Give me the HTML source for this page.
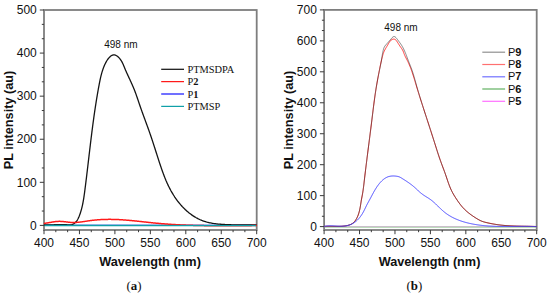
<!DOCTYPE html>
<html><head><meta charset="utf-8"><style>
html,body{margin:0;padding:0;background:#fff;}
body{width:550px;height:296px;overflow:hidden;}
svg{display:block;}
text{font-family:"Liberation Sans",sans-serif;fill:#111;}
.tl{font-size:12px;}
.at{font-size:12.7px;font-weight:bold;}
.ann{font-size:10px;}
.lgl{font-family:"Liberation Serif",serif;font-size:10.4px;}
.lgr{font-size:11px;}
.cap{font-family:"Liberation Serif",serif;font-size:12.9px;}
</style></head><body>
<svg width="550" height="296" viewBox="0 0 550 296">
<rect x="44.0" y="10.0" width="212.70" height="220.00" fill="none" stroke="#7e7e7e" stroke-width="1.8"/>
<line x1="39.80" y1="225.40" x2="44.00" y2="225.40" stroke="#3a3a3a" stroke-width="1"/>
<text x="36.80" y="229.60" class="tl" text-anchor="end">0</text>
<line x1="41.80" y1="211.04" x2="44.00" y2="211.04" stroke="#3a3a3a" stroke-width="1"/>
<line x1="41.80" y1="196.68" x2="44.00" y2="196.68" stroke="#3a3a3a" stroke-width="1"/>
<line x1="39.80" y1="182.32" x2="44.00" y2="182.32" stroke="#3a3a3a" stroke-width="1"/>
<text x="36.80" y="186.52" class="tl" text-anchor="end">100</text>
<line x1="41.80" y1="167.96" x2="44.00" y2="167.96" stroke="#3a3a3a" stroke-width="1"/>
<line x1="41.80" y1="153.60" x2="44.00" y2="153.60" stroke="#3a3a3a" stroke-width="1"/>
<line x1="39.80" y1="139.24" x2="44.00" y2="139.24" stroke="#3a3a3a" stroke-width="1"/>
<text x="36.80" y="143.44" class="tl" text-anchor="end">200</text>
<line x1="41.80" y1="124.88" x2="44.00" y2="124.88" stroke="#3a3a3a" stroke-width="1"/>
<line x1="41.80" y1="110.52" x2="44.00" y2="110.52" stroke="#3a3a3a" stroke-width="1"/>
<line x1="39.80" y1="96.16" x2="44.00" y2="96.16" stroke="#3a3a3a" stroke-width="1"/>
<text x="36.80" y="100.36" class="tl" text-anchor="end">300</text>
<line x1="41.80" y1="81.80" x2="44.00" y2="81.80" stroke="#3a3a3a" stroke-width="1"/>
<line x1="41.80" y1="67.44" x2="44.00" y2="67.44" stroke="#3a3a3a" stroke-width="1"/>
<line x1="39.80" y1="53.08" x2="44.00" y2="53.08" stroke="#3a3a3a" stroke-width="1"/>
<text x="36.80" y="57.28" class="tl" text-anchor="end">400</text>
<line x1="41.80" y1="38.72" x2="44.00" y2="38.72" stroke="#3a3a3a" stroke-width="1"/>
<line x1="41.80" y1="24.36" x2="44.00" y2="24.36" stroke="#3a3a3a" stroke-width="1"/>
<line x1="39.80" y1="10.00" x2="44.00" y2="10.00" stroke="#3a3a3a" stroke-width="1"/>
<text x="36.80" y="14.20" class="tl" text-anchor="end">500</text>
<line x1="44.00" y1="230.00" x2="44.00" y2="234.20" stroke="#3a3a3a" stroke-width="1"/>
<text x="44.00" y="246.90" class="tl" text-anchor="middle">400</text>
<line x1="55.82" y1="230.00" x2="55.82" y2="232.20" stroke="#3a3a3a" stroke-width="1"/>
<line x1="67.63" y1="230.00" x2="67.63" y2="232.20" stroke="#3a3a3a" stroke-width="1"/>
<line x1="79.45" y1="230.00" x2="79.45" y2="234.20" stroke="#3a3a3a" stroke-width="1"/>
<text x="79.45" y="246.90" class="tl" text-anchor="middle">450</text>
<line x1="91.27" y1="230.00" x2="91.27" y2="232.20" stroke="#3a3a3a" stroke-width="1"/>
<line x1="103.08" y1="230.00" x2="103.08" y2="232.20" stroke="#3a3a3a" stroke-width="1"/>
<line x1="114.90" y1="230.00" x2="114.90" y2="234.20" stroke="#3a3a3a" stroke-width="1"/>
<text x="114.90" y="246.90" class="tl" text-anchor="middle">500</text>
<line x1="126.72" y1="230.00" x2="126.72" y2="232.20" stroke="#3a3a3a" stroke-width="1"/>
<line x1="138.53" y1="230.00" x2="138.53" y2="232.20" stroke="#3a3a3a" stroke-width="1"/>
<line x1="150.35" y1="230.00" x2="150.35" y2="234.20" stroke="#3a3a3a" stroke-width="1"/>
<text x="150.35" y="246.90" class="tl" text-anchor="middle">550</text>
<line x1="162.17" y1="230.00" x2="162.17" y2="232.20" stroke="#3a3a3a" stroke-width="1"/>
<line x1="173.98" y1="230.00" x2="173.98" y2="232.20" stroke="#3a3a3a" stroke-width="1"/>
<line x1="185.80" y1="230.00" x2="185.80" y2="234.20" stroke="#3a3a3a" stroke-width="1"/>
<text x="185.80" y="246.90" class="tl" text-anchor="middle">600</text>
<line x1="197.62" y1="230.00" x2="197.62" y2="232.20" stroke="#3a3a3a" stroke-width="1"/>
<line x1="209.43" y1="230.00" x2="209.43" y2="232.20" stroke="#3a3a3a" stroke-width="1"/>
<line x1="221.25" y1="230.00" x2="221.25" y2="234.20" stroke="#3a3a3a" stroke-width="1"/>
<text x="221.25" y="246.90" class="tl" text-anchor="middle">650</text>
<line x1="233.07" y1="230.00" x2="233.07" y2="232.20" stroke="#3a3a3a" stroke-width="1"/>
<line x1="244.88" y1="230.00" x2="244.88" y2="232.20" stroke="#3a3a3a" stroke-width="1"/>
<line x1="256.70" y1="230.00" x2="256.70" y2="234.20" stroke="#3a3a3a" stroke-width="1"/>
<text x="256.70" y="246.90" class="tl" text-anchor="middle">700</text>
<line x1="44.6" y1="224.95" x2="256" y2="225.0" stroke="#6a80f0" stroke-width="1.0"/>
<path d="M44.50,225.01 L45.42,225.02 L46.33,225.01 L47.25,225.00 L48.16,224.98 L49.07,224.96 L49.98,224.93 L50.89,224.90 L51.80,224.86 L52.71,224.82 L53.62,224.79 L54.52,224.75 L55.43,224.71 L56.33,224.68 L57.24,224.65 L58.15,224.62 L59.06,224.60 L59.96,224.59 L60.87,224.58 L61.78,224.58 L62.70,224.59 L63.61,224.61 L64.53,224.65 L65.44,224.69 L66.37,224.75 L67.29,224.82 L68.20,224.87 L69.11,224.90 L70.01,224.88 L70.89,224.79 L71.75,224.61 L72.59,224.34 L73.39,223.95 L74.16,223.45 L74.89,222.87 L75.57,222.22 L76.20,221.53 L76.77,220.80 L77.28,220.05 L77.75,219.27 L78.18,218.47 L78.58,217.65 L78.95,216.81 L79.29,215.97 L79.62,215.12 L79.92,214.26 L80.22,213.41 L80.51,212.54 L80.78,211.68 L81.04,210.81 L81.29,209.94 L81.53,209.06 L81.75,208.18 L81.97,207.30 L82.18,206.42 L82.38,205.54 L82.57,204.65 L82.76,203.76 L82.93,202.87 L83.10,201.97 L83.26,201.08 L83.42,200.18 L83.57,199.28 L83.72,198.38 L83.86,197.48 L83.99,196.58 L84.12,195.68 L84.25,194.77 L84.38,193.87 L84.50,192.97 L84.62,192.06 L84.74,191.15 L84.86,190.25 L84.98,189.34 L85.09,188.44 L85.21,187.53 L85.32,186.63 L85.44,185.72 L85.55,184.81 L85.66,183.91 L85.78,183.00 L85.89,182.10 L86.00,181.19 L86.11,180.29 L86.23,179.38 L86.34,178.48 L86.45,177.57 L86.56,176.66 L86.67,175.76 L86.78,174.85 L86.88,173.95 L86.99,173.04 L87.10,172.14 L87.21,171.23 L87.32,170.33 L87.42,169.42 L87.53,168.52 L87.64,167.61 L87.75,166.71 L87.85,165.80 L87.96,164.90 L88.07,163.99 L88.17,163.09 L88.28,162.18 L88.38,161.28 L88.49,160.37 L88.60,159.47 L88.70,158.56 L88.81,157.66 L88.92,156.75 L89.02,155.85 L89.13,154.94 L89.23,154.04 L89.34,153.14 L89.45,152.23 L89.55,151.33 L89.66,150.42 L89.77,149.52 L89.88,148.61 L89.98,147.71 L90.09,146.81 L90.20,145.90 L90.31,145.00 L90.41,144.09 L90.52,143.19 L90.63,142.29 L90.74,141.38 L90.85,140.48 L90.96,139.58 L91.07,138.67 L91.18,137.77 L91.30,136.87 L91.41,135.96 L91.52,135.06 L91.63,134.16 L91.75,133.25 L91.86,132.35 L91.97,131.45 L92.09,130.54 L92.21,129.64 L92.32,128.74 L92.44,127.84 L92.56,126.93 L92.67,126.03 L92.79,125.13 L92.91,124.23 L93.03,123.32 L93.15,122.42 L93.28,121.52 L93.40,120.62 L93.52,119.72 L93.65,118.81 L93.77,117.91 L93.90,117.01 L94.02,116.11 L94.15,115.21 L94.28,114.31 L94.41,113.40 L94.54,112.50 L94.67,111.60 L94.80,110.70 L94.94,109.80 L95.07,108.90 L95.21,108.00 L95.34,107.10 L95.48,106.20 L95.62,105.30 L95.76,104.40 L95.90,103.50 L96.04,102.60 L96.18,101.70 L96.33,100.80 L96.47,99.90 L96.62,99.00 L96.77,98.10 L96.92,97.20 L97.07,96.30 L97.22,95.40 L97.37,94.50 L97.53,93.60 L97.68,92.70 L97.84,91.80 L98.00,90.91 L98.16,90.01 L98.32,89.11 L98.48,88.21 L98.65,87.31 L98.81,86.41 L98.98,85.52 L99.15,84.62 L99.32,83.72 L99.49,82.82 L99.67,81.93 L99.85,81.03 L100.03,80.14 L100.22,79.25 L100.42,78.35 L100.62,77.47 L100.83,76.58 L101.04,75.69 L101.27,74.81 L101.50,73.93 L101.74,73.06 L101.99,72.19 L102.26,71.32 L102.53,70.45 L102.82,69.59 L103.12,68.74 L103.43,67.89 L103.76,67.04 L104.10,66.20 L104.46,65.36 L104.83,64.53 L105.22,63.71 L105.63,62.89 L106.06,62.08 L106.51,61.29 L106.98,60.50 L107.48,59.74 L108.01,59.00 L108.58,58.29 L109.19,57.61 L109.83,56.96 L110.52,56.35 L111.25,55.79 L112.02,55.32 L112.82,55.00 L113.64,54.86 L114.48,54.93 L115.33,55.16 L116.16,55.53 L116.97,56.02 L117.74,56.60 L118.47,57.23 L119.14,57.89 L119.76,58.58 L120.33,59.30 L120.85,60.04 L121.34,60.80 L121.79,61.58 L122.22,62.38 L122.61,63.19 L122.99,64.01 L123.35,64.85 L123.71,65.68 L124.05,66.52 L124.40,67.37 L124.74,68.21 L125.10,69.05 L125.45,69.88 L125.82,70.72 L126.18,71.55 L126.55,72.39 L126.93,73.22 L127.30,74.05 L127.68,74.88 L128.06,75.70 L128.45,76.53 L128.83,77.36 L129.21,78.19 L129.60,79.01 L129.98,79.84 L130.36,80.67 L130.74,81.50 L131.12,82.33 L131.49,83.16 L131.87,83.99 L132.24,84.82 L132.60,85.66 L132.97,86.49 L133.32,87.33 L133.67,88.17 L134.02,89.01 L134.36,89.86 L134.69,90.71 L135.02,91.56 L135.34,92.41 L135.66,93.26 L135.97,94.12 L136.28,94.98 L136.58,95.84 L136.88,96.70 L137.18,97.56 L137.47,98.42 L137.77,99.29 L138.06,100.15 L138.35,101.02 L138.64,101.88 L138.93,102.74 L139.22,103.61 L139.52,104.47 L139.81,105.33 L140.11,106.19 L140.41,107.06 L140.71,107.91 L141.01,108.77 L141.32,109.63 L141.62,110.49 L141.93,111.35 L142.24,112.20 L142.55,113.06 L142.86,113.91 L143.17,114.77 L143.48,115.62 L143.79,116.48 L144.10,117.33 L144.42,118.19 L144.73,119.04 L145.05,119.89 L145.36,120.75 L145.67,121.60 L145.99,122.45 L146.30,123.31 L146.61,124.16 L146.93,125.02 L147.24,125.87 L147.55,126.73 L147.86,127.58 L148.17,128.44 L148.48,129.30 L148.78,130.15 L149.09,131.01 L149.39,131.87 L149.70,132.73 L150.00,133.59 L150.30,134.45 L150.59,135.31 L150.89,136.17 L151.18,137.04 L151.47,137.90 L151.76,138.77 L152.05,139.63 L152.34,140.50 L152.63,141.37 L152.91,142.24 L153.19,143.11 L153.48,143.97 L153.76,144.84 L154.04,145.71 L154.32,146.58 L154.60,147.45 L154.88,148.32 L155.16,149.19 L155.43,150.06 L155.71,150.94 L155.99,151.81 L156.27,152.68 L156.55,153.55 L156.82,154.42 L157.10,155.29 L157.38,156.16 L157.66,157.03 L157.94,157.89 L158.22,158.76 L158.50,159.63 L158.78,160.50 L159.06,161.37 L159.35,162.23 L159.63,163.10 L159.92,163.96 L160.21,164.82 L160.50,165.69 L160.79,166.55 L161.08,167.41 L161.38,168.27 L161.67,169.13 L161.97,169.99 L162.27,170.84 L162.58,171.70 L162.89,172.55 L163.20,173.40 L163.52,174.25 L163.84,175.10 L164.16,175.94 L164.49,176.79 L164.82,177.63 L165.16,178.47 L165.51,179.31 L165.85,180.15 L166.21,180.98 L166.57,181.81 L166.93,182.64 L167.31,183.47 L167.68,184.29 L168.07,185.11 L168.46,185.93 L168.86,186.74 L169.27,187.56 L169.68,188.37 L170.10,189.17 L170.54,189.98 L170.97,190.78 L171.42,191.57 L171.88,192.37 L172.34,193.16 L172.81,193.94 L173.30,194.73 L173.79,195.50 L174.29,196.27 L174.79,197.04 L175.31,197.80 L175.84,198.56 L176.37,199.31 L176.91,200.06 L177.46,200.79 L178.02,201.53 L178.59,202.25 L179.16,202.97 L179.75,203.68 L180.34,204.38 L180.94,205.07 L181.55,205.76 L182.17,206.44 L182.80,207.10 L183.43,207.76 L184.07,208.41 L184.72,209.05 L185.38,209.68 L186.05,210.30 L186.73,210.91 L187.41,211.51 L188.10,212.10 L188.80,212.67 L189.51,213.24 L190.23,213.79 L190.95,214.33 L191.68,214.86 L192.42,215.37 L193.17,215.88 L193.93,216.37 L194.69,216.84 L195.46,217.30 L196.24,217.75 L197.03,218.18 L197.83,218.60 L198.63,219.01 L199.44,219.39 L200.26,219.77 L201.09,220.13 L201.92,220.47 L202.77,220.79 L203.62,221.10 L204.47,221.39 L205.34,221.67 L206.21,221.93 L207.09,222.17 L207.98,222.39 L208.87,222.60 L209.77,222.80 L210.67,222.98 L211.58,223.15 L212.49,223.31 L213.40,223.46 L214.32,223.59 L215.24,223.71 L216.16,223.83 L217.08,223.93 L218.00,224.03 L218.93,224.12 L219.85,224.20 L220.77,224.27 L221.69,224.34 L222.61,224.40 L223.53,224.46 L224.44,224.51 L225.35,224.56 L226.26,224.60 L227.17,224.64 L228.08,224.68 L228.98,224.71 L229.88,224.74 L230.79,224.76 L231.69,224.79 L232.59,224.81 L233.49,224.82 L234.39,224.84 L235.29,224.85 L236.18,224.86 L237.08,224.87 L237.98,224.88 L238.88,224.88 L239.78,224.89 L240.68,224.89 L241.58,224.90 L242.48,224.90 L243.38,224.90 L244.29,224.90 L245.19,224.91 L246.10,224.91 L247.01,224.91 L247.92,224.92 L248.83,224.92 L249.74,224.93 L250.66,224.93 L251.58,224.94 L252.50,224.95 L253.43,224.96 L254.35,224.98 L255.29,224.99 L256.22,225.01" fill="none" stroke="#141414" stroke-width="1.3" stroke-linejoin="round" stroke-linecap="round"/>
<path d="M44.49,223.30 L44.92,223.25 L45.34,223.20 L45.76,223.15 L46.19,223.09 L46.61,223.02 L47.03,222.96 L47.45,222.89 L47.87,222.82 L48.29,222.75 L48.72,222.68 L49.14,222.61 L49.56,222.54 L49.98,222.46 L50.40,222.39 L50.82,222.32 L51.24,222.24 L51.66,222.17 L52.08,222.10 L52.50,222.03 L52.92,221.96 L53.34,221.90 L53.76,221.83 L54.18,221.77 L54.60,221.71 L55.02,221.66 L55.44,221.61 L55.87,221.56 L56.29,221.52 L56.71,221.48 L57.13,221.45 L57.55,221.42 L57.97,221.40 L58.39,221.38 L58.81,221.37 L59.24,221.36 L59.66,221.36 L60.08,221.37 L60.50,221.38 L60.93,221.40 L61.35,221.42 L61.77,221.45 L62.20,221.48 L62.62,221.52 L63.04,221.56 L63.47,221.60 L63.89,221.64 L64.32,221.69 L64.74,221.73 L65.16,221.78 L65.59,221.83 L66.01,221.88 L66.44,221.94 L66.86,221.99 L67.28,222.04 L67.71,222.09 L68.13,222.13 L68.56,222.18 L68.98,222.23 L69.41,222.27 L69.83,222.31 L70.25,222.35 L70.68,222.38 L71.10,222.41 L71.53,222.44 L71.95,222.46 L72.37,222.47 L72.80,222.48 L73.22,222.49 L73.64,222.49 L74.06,222.49 L74.49,222.49 L74.91,222.47 L75.33,222.46 L75.75,222.44 L76.18,222.42 L76.60,222.39 L77.02,222.37 L77.44,222.33 L77.86,222.30 L78.29,222.26 L78.71,222.22 L79.13,222.18 L79.55,222.13 L79.97,222.08 L80.40,222.03 L80.82,221.98 L81.24,221.93 L81.66,221.87 L82.08,221.81 L82.50,221.76 L82.93,221.70 L83.35,221.63 L83.77,221.57 L84.19,221.51 L84.61,221.45 L85.03,221.38 L85.46,221.32 L85.88,221.25 L86.30,221.19 L86.72,221.13 L87.14,221.06 L87.57,221.00 L87.99,220.93 L88.41,220.87 L88.83,220.81 L89.26,220.75 L89.68,220.69 L90.10,220.63 L90.52,220.57 L90.95,220.52 L91.37,220.47 L91.79,220.41 L92.22,220.36 L92.64,220.31 L93.06,220.26 L93.49,220.22 L93.91,220.17 L94.34,220.13 L94.76,220.08 L95.18,220.04 L95.61,220.00 L96.03,219.96 L96.46,219.92 L96.88,219.89 L97.30,219.85 L97.73,219.82 L98.15,219.78 L98.58,219.75 L99.00,219.72 L99.43,219.69 L99.85,219.67 L100.28,219.64 L100.70,219.62 L101.13,219.59 L101.55,219.57 L101.98,219.55 L102.40,219.53 L102.83,219.51 L103.25,219.49 L103.68,219.48 L104.10,219.46 L104.53,219.45 L104.95,219.43 L105.38,219.42 L105.80,219.41 L106.23,219.40 L106.65,219.39 L107.08,219.39 L107.50,219.38 L107.93,219.38 L108.35,219.37 L108.78,219.37 L109.20,219.37 L109.63,219.37 L110.05,219.37 L110.48,219.37 L110.90,219.37 L111.33,219.38 L111.75,219.38 L112.18,219.39 L112.60,219.40 L113.03,219.40 L113.45,219.41 L113.88,219.42 L114.30,219.44 L114.73,219.45 L115.15,219.46 L115.58,219.48 L116.00,219.49 L116.43,219.51 L116.85,219.52 L117.27,219.54 L117.70,219.56 L118.12,219.58 L118.55,219.60 L118.97,219.62 L119.40,219.65 L119.82,219.67 L120.24,219.69 L120.67,219.72 L121.09,219.74 L121.52,219.77 L121.94,219.80 L122.37,219.82 L122.79,219.85 L123.21,219.88 L123.64,219.91 L124.06,219.94 L124.49,219.97 L124.91,220.01 L125.33,220.04 L125.76,220.07 L126.18,220.11 L126.61,220.14 L127.03,220.17 L127.45,220.21 L127.88,220.25 L128.30,220.28 L128.72,220.32 L129.15,220.36 L129.57,220.40 L130.00,220.43 L130.42,220.47 L130.84,220.51 L131.27,220.55 L131.69,220.59 L132.11,220.63 L132.54,220.67 L132.96,220.72 L133.39,220.76 L133.81,220.80 L134.23,220.84 L134.66,220.89 L135.08,220.93 L135.50,220.97 L135.93,221.02 L136.35,221.06 L136.77,221.10 L137.20,221.15 L137.62,221.19 L138.05,221.24 L138.47,221.28 L138.89,221.33 L139.32,221.38 L139.74,221.42 L140.16,221.47 L140.59,221.51 L141.01,221.56 L141.43,221.60 L141.86,221.65 L142.28,221.70 L142.70,221.74 L143.13,221.79 L143.55,221.84 L143.98,221.88 L144.40,221.93 L144.82,221.98 L145.25,222.02 L145.67,222.07 L146.09,222.11 L146.52,222.16 L146.94,222.21 L147.36,222.25 L147.79,222.30 L148.21,222.34 L148.64,222.39 L149.06,222.44 L149.48,222.48 L149.91,222.53 L150.33,222.57 L150.75,222.62 L151.18,222.66 L151.60,222.70 L152.02,222.75 L152.45,222.79 L152.87,222.84 L153.30,222.88 L153.72,222.92 L154.14,222.96 L154.57,223.01 L154.99,223.05 L155.42,223.09 L155.84,223.13 L156.26,223.17 L156.69,223.21 L157.11,223.25 L157.54,223.29 L157.96,223.33 L158.38,223.37 L158.81,223.41 L159.23,223.44 L159.66,223.48 L160.08,223.52 L160.50,223.56 L160.93,223.59 L161.35,223.63 L161.78,223.66 L162.20,223.70 L162.62,223.73 L163.05,223.77 L163.47,223.80 L163.90,223.84 L164.32,223.87 L164.75,223.90 L165.17,223.93 L165.59,223.97 L166.02,224.00 L166.44,224.03 L166.87,224.06 L167.29,224.09 L167.72,224.12 L168.14,224.15 L168.57,224.18 L168.99,224.21 L169.41,224.24 L169.84,224.27 L170.26,224.30 L170.69,224.33 L171.11,224.35 L171.54,224.38 L171.96,224.41 L172.39,224.43 L172.81,224.46 L173.24,224.49 L173.66,224.51 L174.08,224.54 L174.51,224.56 L174.93,224.59 L175.36,224.61 L175.78,224.64 L176.21,224.66 L176.63,224.68 L177.06,224.71 L177.48,224.73 L177.91,224.75 L178.33,224.77 L178.76,224.80 L179.18,224.82 L179.61,224.84 L180.03,224.86 L180.46,224.88 L180.88,224.90 L181.31,224.92 L181.73,224.94 L182.16,224.96 L182.58,224.98 L183.01,225.00 L183.43,225.02 L183.86,225.04 L184.28,225.06 L184.71,225.07 L185.13,225.09 L185.56,225.11 L185.98,225.13 L186.41,225.14 L186.83,225.16 L187.26,225.17 L187.68,225.19 L188.11,225.21 L188.53,225.22 L188.96,225.24 L189.38,225.25 L189.81,225.27 L190.23,225.28 L190.66,225.30 L191.08,225.31 L191.51,225.32 L191.93,225.34 L192.36,225.35 L192.78,225.36 L193.21,225.38 L193.63,225.39 L194.06,225.40 L194.48,225.41 L194.91,225.42 L195.34,225.44 L195.76,225.45 L196.19,225.46 L196.61,225.47 L197.04,225.48 L197.46,225.49 L197.89,225.50 L198.31,225.51 L198.74,225.52 L199.16,225.53 L199.59,225.54 L200.01,225.55 L200.44,225.56 L200.86,225.56 L201.29,225.57 L201.72,225.58 L202.14,225.59 L202.57,225.60 L202.99,225.60 L203.42,225.61 L203.84,225.62 L204.27,225.63 L204.69,225.63 L205.12,225.64 L205.54,225.65 L205.97,225.65 L206.40,225.66 L206.82,225.66 L207.25,225.67 L207.67,225.68 L208.10,225.68 L208.52,225.69 L208.95,225.69 L209.37,225.70 L209.80,225.70 L210.23,225.71 L210.65,225.71 L211.08,225.71 L211.50,225.72 L211.93,225.72 L212.35,225.73 L212.78,225.73 L213.21,225.73 L213.63,225.74 L214.06,225.74 L214.48,225.74 L214.91,225.74 L215.33,225.75 L215.76,225.75 L216.18,225.75 L216.61,225.75 L217.04,225.76 L217.46,225.76 L217.89,225.76 L218.31,225.76 L218.74,225.76 L219.16,225.76 L219.59,225.77 L220.02,225.77 L220.44,225.77 L220.87,225.77 L221.29,225.77 L221.72,225.77 L222.14,225.77 L222.57,225.77 L223.00,225.77 L223.42,225.77 L223.85,225.77 L224.27,225.77 L224.70,225.77 L225.12,225.77 L225.55,225.77 L225.98,225.77 L226.40,225.77 L226.83,225.77 L227.25,225.77 L227.68,225.77 L228.10,225.77 L228.53,225.77 L228.96,225.76 L229.38,225.76 L229.81,225.76 L230.23,225.76 L230.66,225.76 L231.08,225.76 L231.51,225.76 L231.94,225.75 L232.36,225.75 L232.79,225.75 L233.21,225.75 L233.64,225.75 L234.06,225.74 L234.49,225.74 L234.92,225.74 L235.34,225.74 L235.77,225.74 L236.19,225.73 L236.62,225.73 L237.04,225.73 L237.47,225.73 L237.90,225.72 L238.32,225.72 L238.75,225.72 L239.17,225.72 L239.60,225.71 L240.03,225.71 L240.45,225.71 L240.88,225.70 L241.30,225.70 L241.73,225.70 L242.15,225.70 L242.58,225.69 L243.01,225.69 L243.43,225.69 L243.86,225.68 L244.28,225.68 L244.71,225.68 L245.13,225.67 L245.56,225.67 L245.99,225.67 L246.41,225.66 L246.84,225.66 L247.26,225.66 L247.69,225.65 L248.11,225.65 L248.54,225.65 L248.97,225.65 L249.39,225.64 L249.82,225.64 L250.24,225.64 L250.67,225.63 L251.09,225.63 L251.52,225.63 L251.94,225.62 L252.37,225.62 L252.80,225.62 L253.22,225.61 L253.65,225.61 L254.07,225.61 L254.50,225.60 L254.92,225.60 L255.35,225.60 L255.78,225.59 L256.20,225.59" fill="none" stroke="#ff1a1a" stroke-width="1.5" stroke-linejoin="round" stroke-linecap="round"/>
<line x1="44.6" y1="225.5" x2="256" y2="225.6" stroke="#10a0a8" stroke-width="1.3"/>
<line x1="161.2" y1="69.3" x2="184" y2="69.3" stroke="#141414" stroke-width="1.25"/>
<text x="187.4" y="72.89999999999999" class="lgl">PTMSDPA</text>
<line x1="161.2" y1="81.6" x2="184" y2="81.6" stroke="#ff1a1a" stroke-width="1.25"/>
<text x="187.4" y="85.19999999999999" class="lgl">P<tspan font-weight="bold">2</tspan></text>
<line x1="161.2" y1="94.0" x2="184" y2="94.0" stroke="#1a1aff" stroke-width="1.25"/>
<text x="187.4" y="97.6" class="lgl">P<tspan font-weight="bold">1</tspan></text>
<line x1="161.2" y1="106.4" x2="184" y2="106.4" stroke="#10a0a8" stroke-width="1.25"/>
<text x="187.4" y="110.0" class="lgl">PTMSP</text>
<text x="120.9" y="47.8" class="ann" text-anchor="middle">498 nm</text>
<text x="150" y="266.2" class="at" text-anchor="middle">Wavelength (nm)</text>
<text transform="translate(12.9,120) rotate(-90)" class="at" text-anchor="middle">PL intensity (au)</text>
<text x="134.0" y="290.2" class="cap" text-anchor="middle">(<tspan font-weight="bold">a</tspan>)</text>
<rect x="324.1" y="9.9" width="212.60" height="220.10" fill="none" stroke="#7e7e7e" stroke-width="1.8"/>
<line x1="319.90" y1="226.60" x2="324.10" y2="226.60" stroke="#3a3a3a" stroke-width="1"/>
<text x="316.90" y="230.80" class="tl" text-anchor="end">0</text>
<line x1="321.90" y1="216.28" x2="324.10" y2="216.28" stroke="#3a3a3a" stroke-width="1"/>
<line x1="321.90" y1="205.96" x2="324.10" y2="205.96" stroke="#3a3a3a" stroke-width="1"/>
<line x1="319.90" y1="195.64" x2="324.10" y2="195.64" stroke="#3a3a3a" stroke-width="1"/>
<text x="316.90" y="199.84" class="tl" text-anchor="end">100</text>
<line x1="321.90" y1="185.32" x2="324.10" y2="185.32" stroke="#3a3a3a" stroke-width="1"/>
<line x1="321.90" y1="175.00" x2="324.10" y2="175.00" stroke="#3a3a3a" stroke-width="1"/>
<line x1="319.90" y1="164.69" x2="324.10" y2="164.69" stroke="#3a3a3a" stroke-width="1"/>
<text x="316.90" y="168.89" class="tl" text-anchor="end">200</text>
<line x1="321.90" y1="154.37" x2="324.10" y2="154.37" stroke="#3a3a3a" stroke-width="1"/>
<line x1="321.90" y1="144.05" x2="324.10" y2="144.05" stroke="#3a3a3a" stroke-width="1"/>
<line x1="319.90" y1="133.73" x2="324.10" y2="133.73" stroke="#3a3a3a" stroke-width="1"/>
<text x="316.90" y="137.93" class="tl" text-anchor="end">300</text>
<line x1="321.90" y1="123.41" x2="324.10" y2="123.41" stroke="#3a3a3a" stroke-width="1"/>
<line x1="321.90" y1="113.09" x2="324.10" y2="113.09" stroke="#3a3a3a" stroke-width="1"/>
<line x1="319.90" y1="102.77" x2="324.10" y2="102.77" stroke="#3a3a3a" stroke-width="1"/>
<text x="316.90" y="106.97" class="tl" text-anchor="end">400</text>
<line x1="321.90" y1="92.45" x2="324.10" y2="92.45" stroke="#3a3a3a" stroke-width="1"/>
<line x1="321.90" y1="82.13" x2="324.10" y2="82.13" stroke="#3a3a3a" stroke-width="1"/>
<line x1="319.90" y1="71.81" x2="324.10" y2="71.81" stroke="#3a3a3a" stroke-width="1"/>
<text x="316.90" y="76.01" class="tl" text-anchor="end">500</text>
<line x1="321.90" y1="61.50" x2="324.10" y2="61.50" stroke="#3a3a3a" stroke-width="1"/>
<line x1="321.90" y1="51.18" x2="324.10" y2="51.18" stroke="#3a3a3a" stroke-width="1"/>
<line x1="319.90" y1="40.86" x2="324.10" y2="40.86" stroke="#3a3a3a" stroke-width="1"/>
<text x="316.90" y="45.06" class="tl" text-anchor="end">600</text>
<line x1="321.90" y1="30.54" x2="324.10" y2="30.54" stroke="#3a3a3a" stroke-width="1"/>
<line x1="321.90" y1="20.22" x2="324.10" y2="20.22" stroke="#3a3a3a" stroke-width="1"/>
<line x1="319.90" y1="9.90" x2="324.10" y2="9.90" stroke="#3a3a3a" stroke-width="1"/>
<text x="316.90" y="14.10" class="tl" text-anchor="end">700</text>
<line x1="324.10" y1="230.00" x2="324.10" y2="234.20" stroke="#3a3a3a" stroke-width="1"/>
<text x="324.10" y="246.90" class="tl" text-anchor="middle">400</text>
<line x1="335.91" y1="230.00" x2="335.91" y2="232.20" stroke="#3a3a3a" stroke-width="1"/>
<line x1="347.72" y1="230.00" x2="347.72" y2="232.20" stroke="#3a3a3a" stroke-width="1"/>
<line x1="359.53" y1="230.00" x2="359.53" y2="234.20" stroke="#3a3a3a" stroke-width="1"/>
<text x="359.53" y="246.90" class="tl" text-anchor="middle">450</text>
<line x1="371.34" y1="230.00" x2="371.34" y2="232.20" stroke="#3a3a3a" stroke-width="1"/>
<line x1="383.16" y1="230.00" x2="383.16" y2="232.20" stroke="#3a3a3a" stroke-width="1"/>
<line x1="394.97" y1="230.00" x2="394.97" y2="234.20" stroke="#3a3a3a" stroke-width="1"/>
<text x="394.97" y="246.90" class="tl" text-anchor="middle">500</text>
<line x1="406.78" y1="230.00" x2="406.78" y2="232.20" stroke="#3a3a3a" stroke-width="1"/>
<line x1="418.59" y1="230.00" x2="418.59" y2="232.20" stroke="#3a3a3a" stroke-width="1"/>
<line x1="430.40" y1="230.00" x2="430.40" y2="234.20" stroke="#3a3a3a" stroke-width="1"/>
<text x="430.40" y="246.90" class="tl" text-anchor="middle">550</text>
<line x1="442.21" y1="230.00" x2="442.21" y2="232.20" stroke="#3a3a3a" stroke-width="1"/>
<line x1="454.02" y1="230.00" x2="454.02" y2="232.20" stroke="#3a3a3a" stroke-width="1"/>
<line x1="465.83" y1="230.00" x2="465.83" y2="234.20" stroke="#3a3a3a" stroke-width="1"/>
<text x="465.83" y="246.90" class="tl" text-anchor="middle">600</text>
<line x1="477.64" y1="230.00" x2="477.64" y2="232.20" stroke="#3a3a3a" stroke-width="1"/>
<line x1="489.46" y1="230.00" x2="489.46" y2="232.20" stroke="#3a3a3a" stroke-width="1"/>
<line x1="501.27" y1="230.00" x2="501.27" y2="234.20" stroke="#3a3a3a" stroke-width="1"/>
<text x="501.27" y="246.90" class="tl" text-anchor="middle">650</text>
<line x1="513.08" y1="230.00" x2="513.08" y2="232.20" stroke="#3a3a3a" stroke-width="1"/>
<line x1="524.89" y1="230.00" x2="524.89" y2="232.20" stroke="#3a3a3a" stroke-width="1"/>
<line x1="536.70" y1="230.00" x2="536.70" y2="234.20" stroke="#3a3a3a" stroke-width="1"/>
<text x="536.70" y="246.90" class="tl" text-anchor="middle">700</text>
<line x1="324.8" y1="226.7" x2="536" y2="226.7" stroke="#f0a0f0" stroke-width="1"/>
<line x1="324.8" y1="227.1" x2="536" y2="227.1" stroke="#90d090" stroke-width="1"/>
<path d="M324.60,226.40 L325.57,226.36 L326.54,226.32 L327.51,226.31 L328.48,226.30 L329.45,226.30 L330.42,226.31 L331.39,226.32 L332.35,226.34 L333.32,226.35 L334.29,226.37 L335.25,226.39 L336.22,226.39 L337.18,226.40 L338.15,226.39 L339.11,226.37 L340.08,226.34 L341.04,226.30 L342.00,226.24 L342.96,226.16 L343.93,226.06 L344.89,225.94 L345.85,225.79 L346.81,225.62 L347.77,225.42 L348.72,225.18 L349.65,224.89 L350.56,224.54 L351.42,224.12 L352.24,223.62 L353.00,223.04 L353.72,222.39 L354.39,221.69 L355.01,220.94 L355.59,220.16 L356.12,219.36 L356.61,218.53 L357.06,217.68 L357.48,216.82 L357.86,215.93 L358.21,215.04 L358.53,214.12 L358.83,213.20 L359.09,212.26 L359.34,211.32 L359.56,210.37 L359.77,209.42 L359.96,208.46 L360.14,207.50 L360.31,206.54 L360.47,205.58 L360.63,204.63 L360.78,203.68 L360.93,202.74 L361.08,201.79 L361.24,200.85 L361.40,199.90 L361.58,198.95 L361.76,198.00 L361.94,197.05 L362.12,196.09 L362.30,195.14 L362.47,194.18 L362.64,193.23 L362.79,192.27 L362.94,191.31 L363.08,190.35 L363.22,189.39 L363.35,188.43 L363.47,187.48 L363.60,186.52 L363.71,185.55 L363.83,184.59 L363.95,183.63 L364.06,182.67 L364.17,181.71 L364.28,180.75 L364.39,179.79 L364.50,178.83 L364.62,177.87 L364.73,176.91 L364.84,175.95 L364.96,174.99 L365.07,174.03 L365.19,173.07 L365.30,172.11 L365.42,171.14 L365.54,170.18 L365.65,169.22 L365.77,168.26 L365.89,167.30 L366.01,166.34 L366.13,165.38 L366.25,164.42 L366.37,163.46 L366.49,162.50 L366.61,161.54 L366.73,160.58 L366.85,159.62 L366.97,158.66 L367.09,157.70 L367.21,156.74 L367.33,155.78 L367.46,154.82 L367.58,153.86 L367.70,152.90 L367.82,151.94 L367.95,150.98 L368.07,150.02 L368.19,149.06 L368.31,148.10 L368.44,147.14 L368.56,146.18 L368.68,145.22 L368.81,144.26 L368.93,143.30 L369.05,142.34 L369.18,141.38 L369.30,140.42 L369.42,139.46 L369.55,138.50 L369.67,137.54 L369.79,136.58 L369.91,135.62 L370.04,134.66 L370.16,133.70 L370.28,132.74 L370.40,131.78 L370.52,130.82 L370.64,129.86 L370.77,128.90 L370.89,127.94 L371.01,126.98 L371.13,126.02 L371.25,125.06 L371.37,124.10 L371.49,123.14 L371.60,122.18 L371.72,121.22 L371.84,120.26 L371.96,119.30 L372.08,118.34 L372.19,117.37 L372.31,116.41 L372.43,115.45 L372.54,114.49 L372.66,113.53 L372.78,112.57 L372.90,111.61 L373.01,110.65 L373.13,109.69 L373.25,108.73 L373.37,107.77 L373.49,106.81 L373.61,105.85 L373.74,104.89 L373.86,103.93 L373.98,102.97 L374.11,102.01 L374.24,101.05 L374.37,100.09 L374.50,99.13 L374.63,98.18 L374.77,97.22 L374.90,96.26 L375.04,95.30 L375.18,94.34 L375.32,93.39 L375.47,92.43 L375.62,91.47 L375.77,90.52 L375.92,89.56 L376.07,88.61 L376.23,87.65 L376.39,86.70 L376.55,85.74 L376.72,84.79 L376.88,83.84 L377.05,82.88 L377.22,81.93 L377.39,80.98 L377.56,80.02 L377.73,79.07 L377.90,78.12 L378.08,77.17 L378.25,76.22 L378.43,75.26 L378.60,74.31 L378.78,73.36 L378.96,72.41 L379.14,71.46 L379.32,70.51 L379.50,69.56 L379.68,68.61 L379.87,67.66 L380.06,66.71 L380.25,65.76 L380.45,64.81 L380.65,63.87 L380.86,62.92 L381.07,61.98 L381.29,61.04 L381.51,60.09 L381.74,59.15 L381.97,58.21 L382.22,57.28 L382.47,56.34 L382.72,55.40 L382.99,54.47 L383.29,53.55 L383.60,52.63 L383.96,51.74 L384.36,50.85 L384.80,49.99 L385.26,49.14 L385.74,48.30 L386.23,47.46 L386.73,46.63 L387.21,45.81 L387.69,44.98 L388.18,44.15 L388.67,43.33 L389.20,42.50 L389.75,41.68 L390.36,40.88 L391.05,40.17 L391.86,39.60 L392.76,39.23 L393.71,39.09 L394.62,39.25 L395.44,39.67 L396.13,40.33 L396.73,41.12 L397.29,41.95 L397.81,42.78 L398.33,43.61 L398.83,44.43 L399.35,45.24 L399.88,46.04 L400.43,46.83 L401.00,47.62 L401.55,48.41 L402.09,49.22 L402.57,50.05 L403.00,50.91 L403.38,51.80 L403.72,52.70 L404.06,53.61 L404.40,54.52 L404.77,55.42 L405.17,56.30 L405.60,57.17 L406.04,58.04 L406.49,58.90 L406.94,59.76 L407.38,60.62 L407.81,61.49 L408.23,62.37 L408.64,63.25 L409.03,64.13 L409.41,65.02 L409.78,65.91 L410.14,66.80 L410.50,67.70 L410.84,68.60 L411.18,69.51 L411.50,70.42 L411.82,71.33 L412.14,72.24 L412.45,73.16 L412.75,74.08 L413.05,75.00 L413.34,75.92 L413.63,76.85 L413.91,77.77 L414.20,78.70 L414.48,79.62 L414.76,80.55 L415.04,81.48 L415.31,82.41 L415.59,83.34 L415.87,84.27 L416.15,85.19 L416.43,86.12 L416.71,87.05 L417.00,87.97 L417.28,88.90 L417.57,89.82 L417.85,90.75 L418.14,91.67 L418.43,92.60 L418.72,93.52 L419.01,94.44 L419.31,95.37 L419.60,96.29 L419.89,97.21 L420.19,98.13 L420.48,99.05 L420.78,99.97 L421.08,100.89 L421.37,101.82 L421.67,102.74 L421.97,103.66 L422.27,104.58 L422.57,105.50 L422.87,106.42 L423.17,107.34 L423.47,108.26 L423.76,109.18 L424.06,110.10 L424.36,111.01 L424.66,111.93 L424.96,112.85 L425.26,113.77 L425.56,114.69 L425.86,115.61 L426.16,116.53 L426.46,117.46 L426.76,118.38 L427.06,119.30 L427.35,120.22 L427.65,121.14 L427.95,122.06 L428.25,122.98 L428.54,123.90 L428.84,124.82 L429.14,125.74 L429.43,126.66 L429.73,127.59 L430.02,128.51 L430.32,129.43 L430.62,130.35 L430.91,131.27 L431.21,132.19 L431.50,133.12 L431.79,134.04 L432.09,134.96 L432.38,135.88 L432.68,136.81 L432.97,137.73 L433.26,138.65 L433.56,139.57 L433.85,140.50 L434.14,141.42 L434.44,142.34 L434.73,143.26 L435.02,144.19 L435.31,145.11 L435.61,146.03 L435.90,146.95 L436.19,147.88 L436.48,148.80 L436.78,149.72 L437.07,150.64 L437.37,151.56 L437.67,152.49 L437.97,153.40 L438.27,154.32 L438.58,155.24 L438.88,156.16 L439.19,157.08 L439.51,157.99 L439.83,158.90 L440.15,159.82 L440.47,160.73 L440.80,161.64 L441.13,162.55 L441.46,163.45 L441.80,164.36 L442.14,165.27 L442.48,166.17 L442.81,167.08 L443.15,167.99 L443.49,168.89 L443.83,169.80 L444.16,170.71 L444.49,171.62 L444.82,172.53 L445.15,173.44 L445.47,174.36 L445.79,175.27 L446.10,176.19 L446.41,177.11 L446.72,178.03 L447.02,178.95 L447.33,179.87 L447.64,180.79 L447.96,181.71 L448.27,182.62 L448.60,183.54 L448.93,184.44 L449.27,185.35 L449.62,186.25 L449.98,187.15 L450.35,188.04 L450.74,188.92 L451.14,189.80 L451.55,190.67 L451.99,191.53 L452.43,192.39 L452.90,193.24 L453.37,194.08 L453.86,194.92 L454.35,195.75 L454.86,196.58 L455.38,197.40 L455.90,198.22 L456.44,199.03 L456.98,199.83 L457.52,200.64 L458.07,201.44 L458.63,202.23 L459.20,203.02 L459.77,203.79 L460.36,204.56 L460.95,205.32 L461.56,206.07 L462.18,206.81 L462.82,207.53 L463.47,208.24 L464.14,208.94 L464.83,209.62 L465.53,210.29 L466.24,210.94 L466.97,211.58 L467.71,212.20 L468.46,212.82 L469.22,213.42 L469.99,214.01 L470.77,214.59 L471.56,215.16 L472.35,215.71 L473.16,216.26 L473.97,216.80 L474.78,217.33 L475.60,217.85 L476.42,218.36 L477.24,218.87 L478.07,219.36 L478.91,219.84 L479.76,220.29 L480.62,220.71 L481.50,221.09 L482.40,221.43 L483.31,221.74 L484.24,222.01 L485.18,222.27 L486.13,222.50 L487.08,222.73 L488.03,222.94 L488.98,223.14 L489.94,223.34 L490.89,223.53 L491.84,223.72 L492.79,223.89 L493.74,224.06 L494.70,224.23 L495.65,224.38 L496.60,224.53 L497.56,224.67 L498.52,224.80 L499.47,224.93 L500.43,225.05 L501.39,225.16 L502.35,225.26 L503.31,225.35 L504.28,225.44 L505.24,225.52 L506.20,225.60 L507.17,225.67 L508.13,225.73 L509.10,225.79 L510.07,225.85 L511.04,225.90 L512.00,225.94 L512.97,225.98 L513.94,226.02 L514.91,226.06 L515.88,226.09 L516.85,226.12 L517.82,226.14 L518.79,226.16 L519.76,226.18 L520.73,226.20 L521.70,226.22 L522.67,226.24 L523.64,226.25 L524.61,226.27 L525.57,226.28 L526.54,226.30 L527.51,226.31 L528.48,226.33 L529.45,226.34 L530.41,226.36 L531.38,226.38 L532.34,226.40 L533.31,226.42 L534.27,226.45 L535.24,226.47 L536.20,226.50" fill="none" stroke="#ff3838" stroke-width="1.0" stroke-linejoin="round" stroke-linecap="round"/>
<path d="M324.60,226.40 L325.57,226.34 L326.54,226.30 L327.51,226.28 L328.48,226.27 L329.46,226.27 L330.44,226.28 L331.42,226.29 L332.40,226.31 L333.38,226.33 L334.36,226.36 L335.35,226.38 L336.33,226.39 L337.31,226.40 L338.29,226.40 L339.27,226.38 L340.25,226.35 L341.23,226.31 L342.20,226.25 L343.17,226.16 L344.14,226.06 L345.11,225.92 L346.07,225.76 L347.02,225.57 L347.98,225.35 L348.92,225.08 L349.84,224.77 L350.75,224.40 L351.63,223.97 L352.48,223.46 L353.27,222.88 L354.00,222.23 L354.66,221.51 L355.26,220.74 L355.81,219.93 L356.31,219.10 L356.78,218.24 L357.20,217.35 L357.60,216.46 L357.96,215.55 L358.30,214.63 L358.62,213.70 L358.91,212.77 L359.18,211.83 L359.43,210.89 L359.66,209.94 L359.88,208.99 L360.07,208.03 L360.26,207.07 L360.43,206.11 L360.59,205.14 L360.73,204.18 L360.87,203.21 L361.02,202.24 L361.16,201.27 L361.31,200.31 L361.48,199.35 L361.66,198.39 L361.85,197.43 L362.04,196.47 L362.22,195.51 L362.40,194.55 L362.57,193.59 L362.74,192.63 L362.89,191.66 L363.04,190.70 L363.18,189.73 L363.31,188.76 L363.44,187.80 L363.57,186.83 L363.69,185.86 L363.81,184.89 L363.93,183.91 L364.04,182.94 L364.15,181.97 L364.26,181.00 L364.38,180.03 L364.49,179.06 L364.60,178.08 L364.71,177.11 L364.83,176.14 L364.94,175.17 L365.06,174.20 L365.17,173.23 L365.29,172.26 L365.41,171.29 L365.52,170.32 L365.64,169.35 L365.76,168.37 L365.88,167.40 L366.00,166.43 L366.12,165.46 L366.24,164.49 L366.36,163.52 L366.48,162.55 L366.60,161.58 L366.72,160.61 L366.84,159.64 L366.96,158.67 L367.09,157.70 L367.21,156.73 L367.33,155.76 L367.45,154.80 L367.58,153.83 L367.70,152.86 L367.82,151.89 L367.95,150.92 L368.07,149.95 L368.20,148.98 L368.32,148.01 L368.44,147.04 L368.57,146.07 L368.69,145.10 L368.82,144.13 L368.94,143.16 L369.07,142.19 L369.19,141.22 L369.31,140.25 L369.44,139.28 L369.56,138.32 L369.69,137.35 L369.81,136.38 L369.93,135.41 L370.06,134.44 L370.18,133.47 L370.31,132.50 L370.43,131.53 L370.55,130.56 L370.68,129.59 L370.80,128.62 L370.92,127.65 L371.04,126.68 L371.16,125.71 L371.29,124.74 L371.41,123.77 L371.53,122.80 L371.65,121.83 L371.77,120.86 L371.89,119.89 L372.01,118.92 L372.13,117.95 L372.25,116.98 L372.37,116.01 L372.49,115.04 L372.60,114.07 L372.72,113.10 L372.84,112.13 L372.96,111.16 L373.08,110.19 L373.20,109.22 L373.33,108.25 L373.45,107.28 L373.57,106.31 L373.69,105.34 L373.82,104.37 L373.94,103.40 L374.07,102.43 L374.20,101.46 L374.33,100.49 L374.46,99.52 L374.59,98.55 L374.72,97.59 L374.86,96.62 L374.99,95.65 L375.13,94.68 L375.27,93.71 L375.41,92.75 L375.56,91.78 L375.70,90.82 L375.85,89.85 L376.00,88.88 L376.16,87.92 L376.31,86.95 L376.47,85.99 L376.63,85.03 L376.80,84.06 L376.96,83.10 L377.13,82.14 L377.30,81.18 L377.48,80.21 L377.66,79.25 L377.84,78.29 L378.02,77.33 L378.21,76.37 L378.41,75.41 L378.60,74.46 L378.80,73.50 L379.00,72.54 L379.21,71.58 L379.41,70.63 L379.61,69.67 L379.82,68.71 L380.02,67.76 L380.22,66.80 L380.42,65.84 L380.61,64.88 L380.80,63.92 L380.98,62.96 L381.16,62.00 L381.33,61.04 L381.49,60.08 L381.65,59.12 L381.79,58.15 L381.94,57.19 L382.09,56.22 L382.24,55.26 L382.40,54.29 L382.57,53.33 L382.76,52.37 L382.96,51.41 L383.18,50.45 L383.42,49.50 L383.70,48.56 L384.04,47.64 L384.47,46.77 L385.00,45.95 L385.61,45.17 L386.27,44.43 L386.93,43.70 L387.57,42.98 L388.20,42.25 L388.83,41.52 L389.45,40.79 L390.09,40.04 L390.74,39.29 L391.41,38.52 L392.11,37.73 L392.85,37.03 L393.63,36.58 L394.45,36.57 L395.27,36.98 L396.01,37.67 L396.68,38.50 L397.31,39.33 L397.90,40.13 L398.48,40.90 L399.05,41.66 L399.61,42.42 L400.18,43.20 L400.74,43.99 L401.28,44.81 L401.81,45.63 L402.31,46.47 L402.78,47.32 L403.24,48.19 L403.68,49.06 L404.09,49.94 L404.50,50.83 L404.89,51.72 L405.26,52.63 L405.63,53.53 L405.99,54.44 L406.34,55.36 L406.69,56.28 L407.03,57.19 L407.37,58.11 L407.72,59.03 L408.07,59.95 L408.42,60.86 L408.77,61.78 L409.13,62.69 L409.49,63.59 L409.85,64.50 L410.21,65.41 L410.56,66.32 L410.92,67.23 L411.26,68.14 L411.60,69.06 L411.93,69.97 L412.25,70.89 L412.57,71.82 L412.87,72.74 L413.17,73.67 L413.45,74.61 L413.74,75.54 L414.02,76.48 L414.29,77.42 L414.56,78.36 L414.82,79.30 L415.09,80.24 L415.35,81.18 L415.61,82.13 L415.87,83.07 L416.13,84.01 L416.39,84.96 L416.65,85.90 L416.92,86.84 L417.19,87.78 L417.46,88.72 L417.73,89.66 L418.00,90.60 L418.28,91.54 L418.55,92.48 L418.83,93.42 L419.11,94.35 L419.39,95.29 L419.67,96.22 L419.96,97.16 L420.24,98.10 L420.53,99.03 L420.82,99.96 L421.10,100.90 L421.39,101.83 L421.69,102.76 L421.98,103.70 L422.27,104.63 L422.57,105.56 L422.86,106.49 L423.16,107.42 L423.46,108.36 L423.75,109.29 L424.05,110.22 L424.35,111.15 L424.65,112.08 L424.95,113.01 L425.25,113.94 L425.55,114.87 L425.86,115.80 L426.16,116.73 L426.46,117.65 L426.77,118.58 L427.07,119.51 L427.37,120.44 L427.68,121.37 L427.98,122.30 L428.29,123.23 L428.59,124.16 L428.90,125.09 L429.20,126.01 L429.50,126.94 L429.81,127.87 L430.11,128.80 L430.42,129.73 L430.72,130.66 L431.02,131.59 L431.33,132.52 L431.63,133.45 L431.93,134.38 L432.23,135.31 L432.53,136.24 L432.83,137.17 L433.13,138.10 L433.43,139.03 L433.73,139.96 L434.03,140.89 L434.32,141.82 L434.62,142.75 L434.91,143.69 L435.21,144.62 L435.50,145.55 L435.79,146.48 L436.08,147.42 L436.38,148.35 L436.67,149.28 L436.96,150.22 L437.25,151.15 L437.55,152.08 L437.84,153.01 L438.14,153.94 L438.45,154.87 L438.75,155.80 L439.06,156.73 L439.37,157.66 L439.69,158.58 L440.01,159.50 L440.33,160.42 L440.66,161.34 L440.99,162.26 L441.33,163.18 L441.67,164.09 L442.01,165.01 L442.36,165.92 L442.70,166.84 L443.05,167.75 L443.39,168.67 L443.73,169.58 L444.08,170.50 L444.42,171.42 L444.75,172.34 L445.08,173.26 L445.41,174.18 L445.74,175.10 L446.05,176.03 L446.37,176.96 L446.68,177.89 L446.99,178.82 L447.30,179.74 L447.61,180.67 L447.93,181.60 L448.25,182.53 L448.57,183.45 L448.91,184.37 L449.25,185.28 L449.60,186.19 L449.96,187.10 L450.33,188.00 L450.72,188.89 L451.13,189.78 L451.55,190.66 L451.98,191.53 L452.43,192.40 L452.90,193.26 L453.38,194.11 L453.87,194.95 L454.38,195.79 L454.89,196.63 L455.41,197.45 L455.95,198.28 L456.48,199.10 L457.03,199.91 L457.58,200.72 L458.14,201.53 L458.70,202.33 L459.28,203.12 L459.86,203.91 L460.45,204.68 L461.05,205.45 L461.67,206.21 L462.30,206.95 L462.95,207.68 L463.61,208.39 L464.29,209.09 L464.98,209.77 L465.69,210.44 L466.42,211.10 L467.16,211.74 L467.91,212.37 L468.67,212.98 L469.44,213.59 L470.22,214.18 L471.01,214.76 L471.81,215.33 L472.62,215.89 L473.43,216.44 L474.25,216.99 L475.07,217.52 L475.90,218.04 L476.73,218.56 L477.56,219.06 L478.40,219.55 L479.25,220.03 L480.11,220.47 L480.99,220.88 L481.89,221.24 L482.81,221.57 L483.74,221.87 L484.68,222.14 L485.63,222.38 L486.59,222.61 L487.55,222.83 L488.52,223.04 L489.48,223.24 L490.44,223.44 L491.40,223.63 L492.36,223.81 L493.32,223.99 L494.29,224.16 L495.25,224.32 L496.21,224.47 L497.18,224.62 L498.14,224.75 L499.11,224.88 L500.08,225.00 L501.04,225.12 L502.01,225.22 L502.99,225.32 L503.96,225.41 L504.93,225.50 L505.90,225.58 L506.88,225.65 L507.85,225.72 L508.83,225.78 L509.81,225.83 L510.78,225.89 L511.76,225.93 L512.74,225.98 L513.72,226.01 L514.70,226.05 L515.67,226.08 L516.65,226.11 L517.63,226.14 L518.61,226.16 L519.59,226.18 L520.57,226.20 L521.55,226.22 L522.53,226.24 L523.51,226.25 L524.49,226.27 L525.47,226.28 L526.45,226.30 L527.42,226.31 L528.40,226.33 L529.38,226.34 L530.36,226.36 L531.33,226.38 L532.31,226.40 L533.28,226.42 L534.25,226.44 L535.23,226.47 L536.20,226.50" fill="none" stroke="rgba(40,40,40,0.55)" stroke-width="1.0" stroke-linejoin="round" stroke-linecap="round"/>
<path d="M324.60,226.30 L325.08,226.21 L325.56,226.13 L326.04,226.06 L326.53,226.00 L327.02,225.95 L327.51,225.91 L328.00,225.88 L328.50,225.85 L329.00,225.83 L329.50,225.82 L330.00,225.81 L330.50,225.81 L331.01,225.81 L331.52,225.82 L332.02,225.83 L332.53,225.85 L333.04,225.87 L333.55,225.89 L334.07,225.92 L334.58,225.94 L335.09,225.97 L335.61,225.99 L336.12,226.02 L336.64,226.05 L337.15,226.07 L337.66,226.10 L338.18,226.12 L338.69,226.14 L339.21,226.16 L339.72,226.17 L340.23,226.18 L340.75,226.18 L341.26,226.18 L341.77,226.18 L342.28,226.16 L342.78,226.14 L343.29,226.12 L343.80,226.09 L344.30,226.04 L344.80,225.99 L345.30,225.94 L345.80,225.87 L346.30,225.79 L346.79,225.70 L347.28,225.60 L347.77,225.49 L348.26,225.36 L348.74,225.23 L349.22,225.08 L349.70,224.92 L350.18,224.74 L350.65,224.56 L351.11,224.36 L351.57,224.15 L352.03,223.93 L352.47,223.70 L352.92,223.45 L353.35,223.20 L353.78,222.94 L354.20,222.66 L354.61,222.38 L355.02,222.08 L355.42,221.78 L355.81,221.46 L356.20,221.14 L356.58,220.81 L356.95,220.47 L357.32,220.13 L357.68,219.77 L358.03,219.41 L358.38,219.05 L358.72,218.67 L359.05,218.29 L359.38,217.90 L359.70,217.51 L360.02,217.11 L360.33,216.70 L360.63,216.30 L360.93,215.88 L361.22,215.46 L361.51,215.04 L361.78,214.61 L362.06,214.18 L362.33,213.75 L362.59,213.31 L362.84,212.88 L363.09,212.43 L363.34,211.99 L363.58,211.55 L363.81,211.10 L364.04,210.65 L364.27,210.20 L364.49,209.75 L364.71,209.30 L364.93,208.85 L365.15,208.40 L365.36,207.94 L365.58,207.49 L365.80,207.04 L366.01,206.59 L366.23,206.14 L366.45,205.69 L366.68,205.24 L366.91,204.80 L367.14,204.35 L367.37,203.91 L367.60,203.46 L367.84,203.02 L368.08,202.58 L368.32,202.13 L368.56,201.69 L368.80,201.25 L369.04,200.81 L369.28,200.36 L369.52,199.92 L369.77,199.48 L370.01,199.03 L370.25,198.59 L370.49,198.14 L370.73,197.70 L370.96,197.25 L371.20,196.80 L371.44,196.35 L371.68,195.91 L371.91,195.46 L372.15,195.01 L372.39,194.56 L372.63,194.12 L372.87,193.67 L373.11,193.23 L373.35,192.78 L373.60,192.34 L373.84,191.90 L374.09,191.46 L374.34,191.02 L374.59,190.58 L374.85,190.14 L375.11,189.71 L375.37,189.27 L375.63,188.84 L375.90,188.42 L376.16,187.99 L376.44,187.57 L376.71,187.15 L377.00,186.73 L377.28,186.31 L377.57,185.90 L377.86,185.49 L378.16,185.09 L378.46,184.69 L378.77,184.29 L379.09,183.89 L379.40,183.50 L379.73,183.11 L380.06,182.73 L380.39,182.35 L380.74,181.98 L381.09,181.61 L381.44,181.25 L381.80,180.89 L382.17,180.54 L382.54,180.20 L382.93,179.86 L383.31,179.54 L383.71,179.22 L384.11,178.92 L384.52,178.63 L384.94,178.34 L385.36,178.08 L385.79,177.82 L386.23,177.58 L386.67,177.36 L387.13,177.15 L387.59,176.96 L388.06,176.78 L388.53,176.62 L389.02,176.49 L389.51,176.37 L390.00,176.26 L390.50,176.18 L391.01,176.11 L391.52,176.05 L392.03,176.02 L392.55,175.99 L393.06,175.98 L393.58,175.98 L394.09,176.00 L394.60,176.02 L395.11,176.06 L395.62,176.11 L396.12,176.17 L396.61,176.24 L397.10,176.31 L397.59,176.40 L398.06,176.50 L398.53,176.63 L399.00,176.78 L399.45,176.96 L399.90,177.17 L400.35,177.39 L400.79,177.64 L401.22,177.90 L401.66,178.16 L402.09,178.43 L402.53,178.71 L402.96,178.98 L403.39,179.25 L403.82,179.52 L404.25,179.80 L404.68,180.07 L405.10,180.35 L405.53,180.62 L405.95,180.90 L406.38,181.18 L406.80,181.45 L407.22,181.74 L407.64,182.02 L408.05,182.30 L408.47,182.59 L408.88,182.88 L409.29,183.17 L409.70,183.46 L410.11,183.75 L410.51,184.05 L410.92,184.35 L411.32,184.65 L411.72,184.96 L412.11,185.27 L412.51,185.58 L412.90,185.90 L413.28,186.22 L413.67,186.54 L414.05,186.86 L414.43,187.20 L414.81,187.53 L415.18,187.87 L415.56,188.21 L415.93,188.55 L416.30,188.90 L416.67,189.24 L417.03,189.59 L417.40,189.94 L417.77,190.28 L418.14,190.63 L418.51,190.97 L418.88,191.32 L419.26,191.66 L419.64,192.00 L420.02,192.33 L420.40,192.66 L420.78,192.98 L421.18,193.31 L421.57,193.62 L421.97,193.93 L422.38,194.23 L422.79,194.53 L423.20,194.82 L423.62,195.10 L424.04,195.39 L424.46,195.66 L424.89,195.94 L425.31,196.21 L425.74,196.48 L426.17,196.75 L426.60,197.02 L427.03,197.29 L427.46,197.56 L427.89,197.83 L428.31,198.10 L428.74,198.37 L429.16,198.65 L429.58,198.93 L429.99,199.21 L430.40,199.50 L430.81,199.80 L431.21,200.09 L431.60,200.40 L431.99,200.71 L432.38,201.02 L432.76,201.34 L433.14,201.67 L433.51,202.00 L433.89,202.33 L434.26,202.66 L434.63,203.00 L434.99,203.34 L435.36,203.69 L435.72,204.03 L436.09,204.38 L436.45,204.73 L436.81,205.08 L437.18,205.44 L437.54,205.79 L437.91,206.15 L438.27,206.50 L438.63,206.85 L439.00,207.21 L439.37,207.56 L439.73,207.92 L440.10,208.27 L440.47,208.62 L440.84,208.97 L441.21,209.32 L441.59,209.66 L441.96,210.00 L442.34,210.34 L442.72,210.68 L443.11,211.02 L443.49,211.35 L443.88,211.67 L444.27,212.00 L444.66,212.31 L445.06,212.63 L445.46,212.94 L445.86,213.24 L446.27,213.54 L446.67,213.83 L447.09,214.12 L447.50,214.41 L447.92,214.69 L448.34,214.96 L448.76,215.24 L449.19,215.50 L449.61,215.76 L450.04,216.02 L450.48,216.28 L450.91,216.53 L451.35,216.77 L451.79,217.01 L452.24,217.25 L452.68,217.48 L453.13,217.71 L453.58,217.93 L454.03,218.15 L454.49,218.37 L454.94,218.58 L455.40,218.79 L455.86,218.99 L456.32,219.19 L456.78,219.39 L457.25,219.58 L457.72,219.77 L458.19,219.96 L458.66,220.14 L459.13,220.32 L459.60,220.49 L460.08,220.66 L460.55,220.83 L461.03,221.00 L461.51,221.16 L461.99,221.31 L462.47,221.47 L462.95,221.62 L463.44,221.77 L463.92,221.91 L464.41,222.06 L464.90,222.19 L465.38,222.33 L465.87,222.46 L466.36,222.59 L466.85,222.72 L467.34,222.85 L467.83,222.97 L468.32,223.09 L468.82,223.20 L469.31,223.32 L469.80,223.43 L470.30,223.53 L470.79,223.64 L471.28,223.74 L471.78,223.84 L472.27,223.94 L472.77,224.04 L473.26,224.13 L473.76,224.22 L474.26,224.31 L474.75,224.40 L475.25,224.48 L475.75,224.56 L476.24,224.64 L476.74,224.72 L477.24,224.80 L477.74,224.87 L478.24,224.94 L478.73,225.01 L479.23,225.08 L479.73,225.14 L480.23,225.20 L480.73,225.26 L481.23,225.32 L481.73,225.38 L482.23,225.44 L482.73,225.49 L483.23,225.54 L483.74,225.59 L484.24,225.64 L484.74,225.69 L485.24,225.73 L485.74,225.77 L486.24,225.81 L486.75,225.85 L487.25,225.89 L487.75,225.93 L488.25,225.96 L488.76,226.00 L489.26,226.03 L489.76,226.06 L490.27,226.09 L490.77,226.12 L491.28,226.14 L491.78,226.17 L492.28,226.19 L492.79,226.21 L493.29,226.24 L493.80,226.26 L494.30,226.28 L494.81,226.29 L495.31,226.31 L495.82,226.33 L496.32,226.34 L496.83,226.35 L497.33,226.37 L497.84,226.38 L498.34,226.39 L498.85,226.40 L499.36,226.41 L499.86,226.41 L500.37,226.42 L500.87,226.43 L501.38,226.43 L501.89,226.44 L502.39,226.44 L502.90,226.45 L503.40,226.45 L503.91,226.45 L504.42,226.45 L504.92,226.45 L505.43,226.45 L505.94,226.45 L506.44,226.45 L506.95,226.45 L507.46,226.45 L507.96,226.45 L508.47,226.45 L508.98,226.44 L509.48,226.44 L509.99,226.44 L510.49,226.43 L511.00,226.43 L511.51,226.43 L512.01,226.42 L512.52,226.42 L513.03,226.41 L513.53,226.41 L514.04,226.41 L514.55,226.40 L515.05,226.40 L515.56,226.39 L516.06,226.39 L516.57,226.38 L517.08,226.38 L517.58,226.38 L518.09,226.37 L518.59,226.37 L519.10,226.37 L519.60,226.36 L520.11,226.36 L520.61,226.36 L521.12,226.36 L521.62,226.36 L522.13,226.35 L522.63,226.35 L523.14,226.35 L523.64,226.35 L524.15,226.35 L524.65,226.36 L525.15,226.36 L525.66,226.36 L526.16,226.36 L526.67,226.37 L527.17,226.37 L527.67,226.38 L528.18,226.38 L528.68,226.39 L529.18,226.40 L529.68,226.41 L530.19,226.42 L530.69,226.43 L531.19,226.44 L531.69,226.45 L532.19,226.47 L532.69,226.48 L533.19,226.50 L533.70,226.51 L534.20,226.53 L534.70,226.55 L535.20,226.57 L535.70,226.59 L536.20,226.61" fill="none" stroke="#4040ff" stroke-width="1.0" stroke-linejoin="round" stroke-linecap="round"/>
<line x1="482.3" y1="52.2" x2="505.1" y2="52.2" stroke="#909090" stroke-width="1.2"/>
<text x="508" y="55.800000000000004" class="lgr">P<tspan font-weight="bold">9</tspan></text>
<line x1="482.3" y1="64.5" x2="505.1" y2="64.5" stroke="#ff7070" stroke-width="1.2"/>
<text x="508" y="68.1" class="lgr">P<tspan font-weight="bold">8</tspan></text>
<line x1="482.3" y1="76.8" x2="505.1" y2="76.8" stroke="#7070ff" stroke-width="1.2"/>
<text x="508" y="80.39999999999999" class="lgr">P<tspan font-weight="bold">7</tspan></text>
<line x1="482.3" y1="89.0" x2="505.1" y2="89.0" stroke="#60b060" stroke-width="1.2"/>
<text x="508" y="92.6" class="lgr">P<tspan font-weight="bold">6</tspan></text>
<line x1="482.3" y1="101.3" x2="505.1" y2="101.3" stroke="#ff70ff" stroke-width="1.2"/>
<text x="508" y="104.89999999999999" class="lgr">P<tspan font-weight="bold">5</tspan></text>
<text x="401" y="31.2" class="ann" text-anchor="middle">498 nm</text>
<text x="429.5" y="266.2" class="at" text-anchor="middle">Wavelength (nm)</text>
<text transform="translate(293.2,120) rotate(-90)" class="at" text-anchor="middle">PL intensity (au)</text>
<text x="414.3" y="290.4" class="cap" text-anchor="middle">(<tspan font-weight="bold">b</tspan>)</text>
</svg>
</body></html>
